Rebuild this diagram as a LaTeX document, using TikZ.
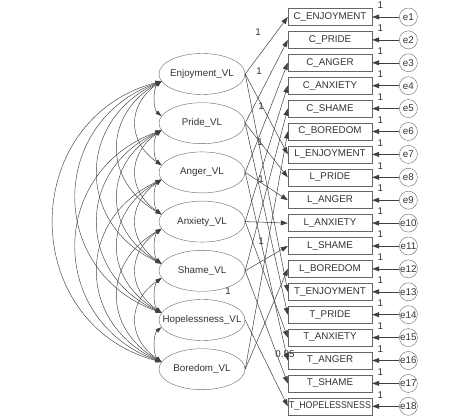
\documentclass[tikz,border=0pt]{standalone}
\usepackage{fontspec}
\setmainfont{Liberation Sans}
\usetikzlibrary{arrows.meta,positioning,shapes.geometric}
\newcommand{\vlname}[1]{\makebox[0pt]{#1\_VL}}

\begin{document}
\begin{tikzpicture}[
    x=1pt, y=1pt,
    font=\fontsize{9.8}{11}\selectfont,
    every node/.style={text=black!80},
    ind/.style={draw=black!60, minimum width=84pt, minimum height=17pt, inner sep=0pt},
    lat/.style={ellipse, draw=black!60, minimum width=86pt, minimum height=41pt, inner sep=0pt},
    err/.style={circle, draw=black!60, minimum size=18pt, inner sep=0pt},
    load/.style={-{Triangle[length=7pt,width=5pt]}, draw=black!75, line width=0.5pt},
    cov/.style={{Triangle[length=6pt,width=4pt]}-{Triangle[length=6pt,width=4pt]}, draw=black!75, line width=0.45pt},
    wt/.style={inner sep=1pt},
  ]
  \useasboundingbox (0,0) rectangle (474,418);

  % ---- latent variables ----
  \foreach \n [count=\j] in {Enjoyment, Pride, Anger, Anxiety, Shame, Hopelessness, Boredom}
    \node[lat] (l\j) at (202,{344-49.2*(\j-1)}) {\vlname{\n}};

  % ---- observed indicators and their error terms ----
  \foreach \obs [count=\i] in {C\_ENJOYMENT, C\_PRIDE, C\_ANGER, C\_ANXIETY, C\_SHAME, C\_BOREDOM,
      L\_ENJOYMENT, L\_PRIDE, L\_ANGER, L\_ANXIETY, L\_SHAME, L\_BOREDOM,
      T\_ENJOYMENT, T\_PRIDE, T\_ANXIETY, T\_ANGER, T\_SHAME, {\scalebox{0.9}[1]{T\_HOPELESSNESS}}} {
    \node[ind] (i\i) at (330,{401-22.9*(\i-1)}) {\obs};
    \node[err, right=27pt of i\i] (e\i) {\makebox[0pt]{e\i}};
    \draw[load] (e\i) -- node[wt, pos=0.7, above=7pt] (r\i) {1} (i\i);
  }

  % ---- factor loadings ----
  \foreach \src/\dst in {1/1, 2/2, 3/3, 4/4, 5/5, 7/6, 1/7, 2/8, 3/9, 4/10, 5/11, 7/12,
      1/13, 2/14, 4/15, 3/16, 5/17, 6/18}
    \draw[load] (l\src.east) -- (i\dst.west);
  \foreach \x/\y/\v [count=\m] in {258/386/1, 259/347/1, 261/312/1, 260/276/1,
      261/239/1, 261/177/1, 228/127/1, 285/64/0.85}
    \node[wt] (w\m) at (\x,\y) {\v};

  % ---- covariances among the latent variables ----
  \foreach \src in {1,...,6} {
    \pgfmathtruncatemacro\nxt{\src+1}
    \foreach \dst in {\nxt,...,7} {
      \pgfmathtruncatemacro\gap{\dst-\src}
      \pgfmathsetmacro\bnd{min(45+5*\gap,75)}
      \pgfmathsetmacro\lse{\gap==1 ? 0.8 : 1.24+0.02*\gap}
      \draw[cov] (l\src.190) to[bend right=\bnd, looseness=\lse] (l\dst.170);
    }
  }
\end{tikzpicture}
\end{document}
